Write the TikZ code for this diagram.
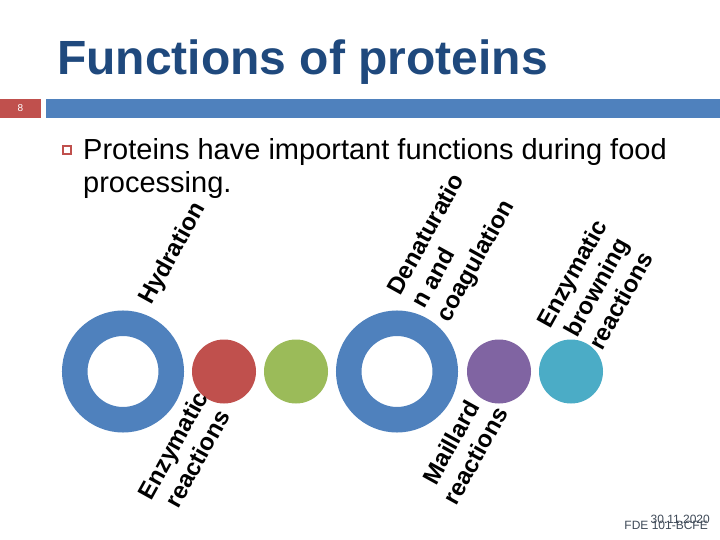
\documentclass[tikz,border=0pt]{standalone}
\usepackage{fontspec}
\setmainfont{Liberation Sans}
\definecolor{titleblue}{HTML}{1F497D}
\definecolor{accblue}{HTML}{4F81BD}
\definecolor{accred}{HTML}{C0504D}
\definecolor{accgreen}{HTML}{9BBB59}
\definecolor{accpurple}{HTML}{8064A2}
\definecolor{accteal}{HTML}{4BACC6}
\definecolor{footgray}{HTML}{3F4A58}
\tikzset{
  ring/.style={circle, draw=accblue, line width=25.5pt, minimum size=96.5pt, inner sep=0pt},
  disc/.style={circle, fill=#1, minimum size=64pt, inner sep=0pt},
  lbl/.style={rotate=61, font=\fontsize{24}{28}\selectfont\bfseries, inner sep=0pt, align=center},
  body/.style={anchor=base west, inner sep=0pt, font=\fontsize{29}{33}\selectfont}
}
\begin{document}
\begin{tikzpicture}[x=1pt,y=-1pt]
      \useasboundingbox (0,0) rectangle (720,540);
      \node[anchor=base west, inner sep=0pt, text=titleblue,
        font=\fontsize{48}{58}\selectfont\bfseries] (title) at (57,75) {Functions of proteins};
      \fill[accred] (0,99) rectangle (41,118);
      \fill[accblue] (46,99) rectangle (720,118);
      \node[text=white, font=\fontsize{10}{12}\selectfont] (num) at (20.5,108.5) {8};
      \node[draw=accred, line width=1.2pt, minimum size=8pt, inner sep=0pt] (bullet) at (67,150) {};
      \node[body] (line1) at (83,160) {Proteins have important functions during food};
      \node[body] (line2) at (83,193) {processing.};
      \draw
        (123,371.5) node[ring] (hyd){}
        (224,371.5) node[disc=accred] (enz){}
        (296,371.5) node[disc=accgreen] (grn){}
        (397,371.5) node[ring] (den){}
        (499,371.5) node[disc=accpurple] (mai){}
        (571,371.5) node[disc=accteal] (brw){};
      \begin{scope}[every node/.style={lbl}]
        \node (hydl) at (173,254) {Hydration};
        \node (enzl) at (185,452) {Enzymatic\\reactions};
        \node[align=left] (denl) at (452,248) {Denaturatio\\n and\\coagulation};
        \node (mail) at (463,449) {Maillard\\reactions};
        \node (brwl) at (596,287) {Enzymatic\\browning\\reactions};
      \end{scope}
      \node[anchor=base east, inner sep=0pt, text=footgray,
        font=\fontsize{12}{14}\selectfont] (foot) at (708,529) {FDE 101-BCFE};
      \node[anchor=base east, inner sep=0pt, text=footgray,
        font=\fontsize{12}{14}\selectfont] (date) at (710,523) {30.11.2020};
    \end{tikzpicture}
\end{document}
